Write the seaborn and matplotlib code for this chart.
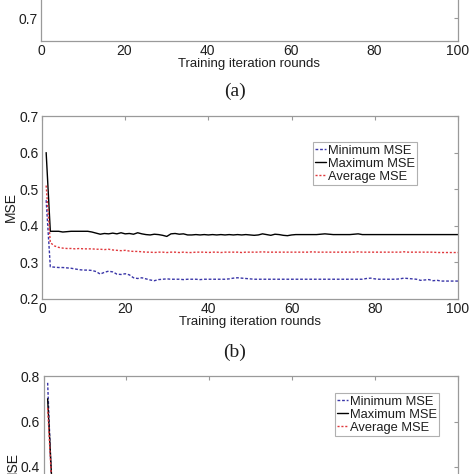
import seaborn as sns
import matplotlib.pyplot as plt
import pandas as pd

# values
rounds = list(range(1, 101))

min_mse_b = [0.470, 0.288, 0.287, 0.286, 0.286, 0.285, 0.284, 0.282, 0.280, 0.279,
             0.279, 0.278, 0.275, 0.268, 0.273, 0.276, 0.274, 0.268, 0.267, 0.269,
             0.266, 0.258, 0.256, 0.258, 0.255, 0.252, 0.250, 0.253, 0.254, 0.255,
             0.254, 0.254, 0.254, 0.253, 0.254, 0.254, 0.254, 0.253, 0.254, 0.254,
             0.254, 0.254, 0.254, 0.254, 0.255, 0.257, 0.258, 0.257, 0.256, 0.255,
             0.254, 0.254, 0.254, 0.254, 0.254, 0.254, 0.254, 0.254, 0.254, 0.254,
             0.254, 0.254, 0.254, 0.254, 0.254, 0.254, 0.254, 0.254, 0.254, 0.254,
             0.254, 0.254, 0.254, 0.254, 0.254, 0.254, 0.254, 0.256, 0.257, 0.255,
             0.254, 0.254, 0.254, 0.254, 0.254, 0.255, 0.257, 0.256, 0.255, 0.254,
             0.251, 0.252, 0.253, 0.250, 0.251, 0.249, 0.249, 0.249, 0.249, 0.249]

max_mse_b = [0.600, 0.385, 0.385, 0.385, 0.383, 0.384, 0.385, 0.385, 0.385, 0.385,
             0.385, 0.383, 0.380, 0.377, 0.379, 0.378, 0.380, 0.378, 0.381, 0.378,
             0.379, 0.377, 0.381, 0.378, 0.376, 0.375, 0.377, 0.376, 0.374, 0.371,
             0.378, 0.379, 0.377, 0.378, 0.375, 0.375, 0.376, 0.375, 0.376, 0.375,
             0.376, 0.375, 0.376, 0.375, 0.376, 0.375, 0.376, 0.375, 0.376, 0.375,
             0.374, 0.375, 0.378, 0.376, 0.374, 0.377, 0.376, 0.374, 0.373, 0.375,
             0.376, 0.376, 0.376, 0.376, 0.376, 0.376, 0.377, 0.378, 0.377, 0.376,
             0.376, 0.376, 0.376, 0.376, 0.377, 0.378, 0.376, 0.376, 0.376, 0.376,
             0.376, 0.376, 0.376, 0.376, 0.376, 0.376, 0.376, 0.376, 0.376, 0.376,
             0.376, 0.376, 0.376, 0.376, 0.376, 0.376, 0.376, 0.376, 0.376, 0.376]

avg_mse_b = [0.510, 0.354, 0.345, 0.341, 0.339, 0.338, 0.338, 0.337, 0.338, 0.337,
             0.337, 0.337, 0.336, 0.336, 0.335, 0.336, 0.334, 0.333, 0.332, 0.333,
             0.331, 0.330, 0.330, 0.329, 0.328, 0.328, 0.327, 0.328, 0.328, 0.327,
             0.328, 0.328, 0.327, 0.328, 0.327, 0.327, 0.328, 0.328, 0.328, 0.327,
             0.328, 0.328, 0.327, 0.328, 0.328, 0.328, 0.328, 0.327, 0.328, 0.328,
             0.328, 0.328, 0.329, 0.328, 0.328, 0.328, 0.328, 0.328, 0.328, 0.328,
             0.328, 0.328, 0.328, 0.328, 0.329, 0.328, 0.328, 0.328, 0.328, 0.328,
             0.328, 0.328, 0.328, 0.328, 0.328, 0.329, 0.328, 0.328, 0.328, 0.328,
             0.328, 0.328, 0.328, 0.328, 0.328, 0.328, 0.329, 0.328, 0.328, 0.328,
             0.328, 0.328, 0.328, 0.328, 0.327, 0.327, 0.327, 0.327, 0.327, 0.327]

# panel (c): only the first drop is visible
rounds_c = [1, 2, 3, 5, 10, 20, 40, 60, 80, 100]
min_mse_c = [0.77, 0.30, 0.24, 0.22, 0.21, 0.20, 0.19, 0.19, 0.19, 0.19]
max_mse_c = [0.70, 0.34, 0.30, 0.29, 0.28, 0.28, 0.28, 0.28, 0.28, 0.28]
avg_mse_c = [0.66, 0.32, 0.26, 0.25, 0.24, 0.24, 0.23, 0.23, 0.23, 0.23]

series_names = ['Minimum MSE', 'Maximum MSE', 'Average MSE']
series_colors = ['#3a36a8', 'black', '#e0383c']
series_dashes = [(0, (2.0, 1.3)), '-', (0, (1.5, 1.3))]

sns.set_theme(style='white')
plt.rcParams['font.family'] = ['Liberation Sans', 'DejaVu Sans']

fig = plt.figure(figsize=(4.74, 4.74), dpi=100)
W = 474.0
TXT = '#1e1e1e'


def box(left, right, top, bottom):
    return [left / W, (W - bottom) / W, (right - left) / W, (bottom - top) / W]


def style_axes(ax, ylim, yticks, xlabels=True):
    ax.set_xlim(0, 100)
    ax.set_ylim(*ylim)
    ax.set_xticks([0, 20, 40, 60, 80, 100])
    ax.set_yticks(yticks)
    ax.set_yticklabels(['%.1f' % t for t in yticks])
    ax.tick_params(direction='in', top=True, right=True, length=3, width=0.8,
                   color='#999999', labelsize=10, labelcolor=TXT, pad=2.5)
    for sp in ax.spines.values():
        sp.set_color('#9a9a9a')
        sp.set_linewidth(0.9)
    if xlabels:
        ax.set_xlabel('Training iteration rounds', fontsize=9.5, labelpad=0, color=TXT)
    else:
        ax.tick_params(labelbottom=False)
        ax.set_xlabel('')


def draw_lines(ax, x, ys):
    for y, name, col, ls in zip(ys, series_names, series_colors, series_dashes):
        df = pd.DataFrame({'round': x, 'mse': y})
        sns.lineplot(data=df, x='round', y='mse', ax=ax, color=col, linestyle=ls,
                     linewidth=1.0, label=name)


def add_legend(ax, anchor):
    leg = ax.legend(loc='upper left', bbox_to_anchor=anchor, fontsize=9.3,
                    handlelength=0.8, handletextpad=0.15, borderpad=0.2,
                    labelspacing=0.08, borderaxespad=0, fancybox=False,
                    framealpha=1, edgecolor='#b0b0b0')
    leg.get_frame().set_linewidth(0.8)
    for t in leg.get_texts():
        t.set_color(TXT)


# (a) only the bottom strip is in view
ax_a = fig.add_axes(box(41, 458, -142, 41))
style_axes(ax_a, (0.65, 1.05), [0.7])
ax_a.set_ylabel('')

# (b)
ax_b = fig.add_axes(box(42, 458, 116, 299))
draw_lines(ax_b, rounds, [min_mse_b, max_mse_b, avg_mse_b])
style_axes(ax_b, (0.2, 0.7), [0.2, 0.3, 0.4, 0.5, 0.6, 0.7])
ax_b.set_ylabel('MSE', fontsize=10, labelpad=1, color=TXT)
add_legend(ax_b, (0.651, 0.858))

# (c) only the top strip is in view
ax_c = fig.add_axes(box(43.5, 458, 376, 558))
draw_lines(ax_c, rounds_c, [min_mse_c, max_mse_c, avg_mse_c])
style_axes(ax_c, (0.0, 0.8), [0.4, 0.6, 0.8], xlabels=False)
ax_c.set_ylabel('MSE', fontsize=10, labelpad=1, color=TXT)
add_legend(ax_c, (0.703, 0.907))

fig.text(235 / W, 1 - 91 / W, '(a)', ha='center', va='center', fontsize=14,
         family=['Liberation Serif', 'DejaVu Serif'], color=TXT)
fig.text(235 / W, 1 - 352 / W, '(b)', ha='center', va='center', fontsize=14,
         family=['Liberation Serif', 'DejaVu Serif'], color=TXT)

fig.savefig('out.png', dpi=100)
